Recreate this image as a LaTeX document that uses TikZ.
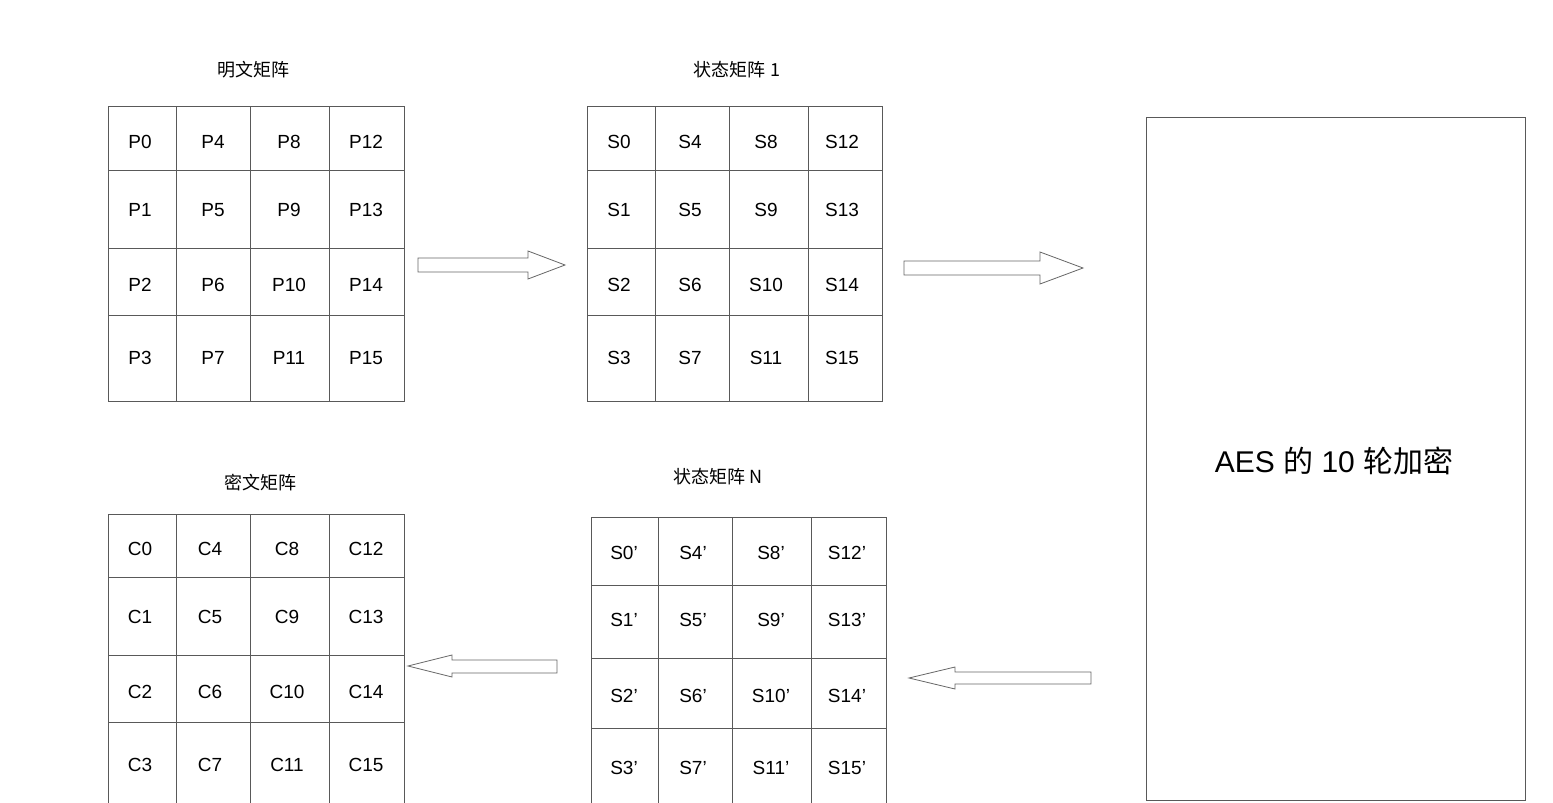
\documentclass[tikz,border=0pt]{standalone}
\usepackage{fontspec}
\setmainfont{Liberation Sans}
\newfontfamily\cjk{Noto Sans CJK SC}
\begin{document}
\begin{tikzpicture}[x=1pt,y=-1pt,
  grid/.style={draw=black!65,line width=0.8pt},
  cell/.style={font=\fontsize{19}{22}\selectfont,inner sep=0pt},
  title/.style={font=\cjk\fontsize{18}{22}\selectfont,inner sep=0pt},
  harrow/.style={draw=black!60,line width=0.8pt,fill=white}]
\useasboundingbox (0,0) rectangle (1553,803);
% generic matrix drawer
\newcommand\mymatrix[4]{% name, xlist, ylist, labels prefix/suffix via foreach
}
% Matrix 1
\def\xa{108}\def\xb{176}\def\xc{250}\def\xd{329}\def\xe{404}
\draw[grid] (108,106) rectangle (404,401);
\foreach \x in {176,250,329} \draw[grid] (\x,106) -- (\x,401);
\foreach \y in {170,248,315} \draw[grid] (108,\y) -- (404,\y);
\foreach \cx [count=\c from 0] in {140,213,289,366}
 \foreach \cy [count=\r from 0] in {142,210,285,358}
 { \pgfmathtruncatemacro\n{\c*4+\r}
   \node[cell] (p\n) at (\cx,\cy) {P\n}; }
\node[title] (t1) at (253,70) {明文矩阵};
% Matrix 2
\draw[grid] (587,106) rectangle (882,401);
\foreach \x in {655,729,808} \draw[grid] (\x,106) -- (\x,401);
\foreach \y in {170,248,315} \draw[grid] (587,\y) -- (882,\y);
\foreach \cx [count=\c from 0] in {619,690,766,842}
 \foreach \cy [count=\r from 0] in {142,210,285,358}
 { \pgfmathtruncatemacro\n{\c*4+\r}
   \node[cell] (s\n) at (\cx,\cy) {S\n}; }
\node[title] (t2) at (737,70) {状态矩阵 1};
% Matrix 3 (cipher)
\draw[grid] (108,514) rectangle (404,815);
\foreach \x in {176,250,329} \draw[grid] (\x,514) -- (\x,815);
\foreach \y in {577,655,722} \draw[grid] (108,\y) -- (404,\y);
\foreach \cx [count=\c from 0] in {140,210,287,366}
 \foreach \cy [count=\r from 0] in {549,617,692,765}
 { \pgfmathtruncatemacro\n{\c*4+\r}
   \node[cell] (c\n) at (\cx,\cy) {C\n}; }
\node[title] (t3) at (260,483) {密文矩阵};
% Matrix 4
\draw[grid] (591,517) rectangle (886,815);
\foreach \x in {658,732,811} \draw[grid] (\x,517) -- (\x,815);
\foreach \y in {585,658,728} \draw[grid] (591,\y) -- (886,\y);
\foreach \cx [count=\c from 0] in {624,693,771,847}
 \foreach \cy [count=\r from 0] in {553,620,696,768}
 { \pgfmathtruncatemacro\n{\c*4+\r}
   \node[cell] (q\n) at (\cx,\cy) {S\n'}; }
\node[title] (t4) at (718,477) {状态矩阵 N};
% AES box
\node[draw=black!65,line width=0.8pt,minimum width=379pt,minimum height=683pt,inner sep=0pt] (aes) at (1335.5,458.5) {};
\node[font=\fontsize{30}{36}\selectfont,inner sep=0pt] (aest) at (1334,461) {AES {\cjk 的} 10 {\cjk 轮加密}};
% block arrows
\draw[harrow] (418,258) -- (528,258) -- (528,251) -- (565,265) -- (528,279) -- (528,272) -- (418,272) -- cycle;
\draw[harrow] (904,261) -- (1040,261) -- (1040,252) -- (1083,268) -- (1040,284) -- (1040,275) -- (904,275) -- cycle;
\draw[harrow] (557,660) -- (452,660) -- (452,655) -- (408,666) -- (452,677) -- (452,673) -- (557,673) -- cycle;
\draw[harrow] (1091,672) -- (955,672) -- (955,667) -- (909,678) -- (955,689) -- (955,684) -- (1091,684) -- cycle;
\end{tikzpicture}
\end{document}
